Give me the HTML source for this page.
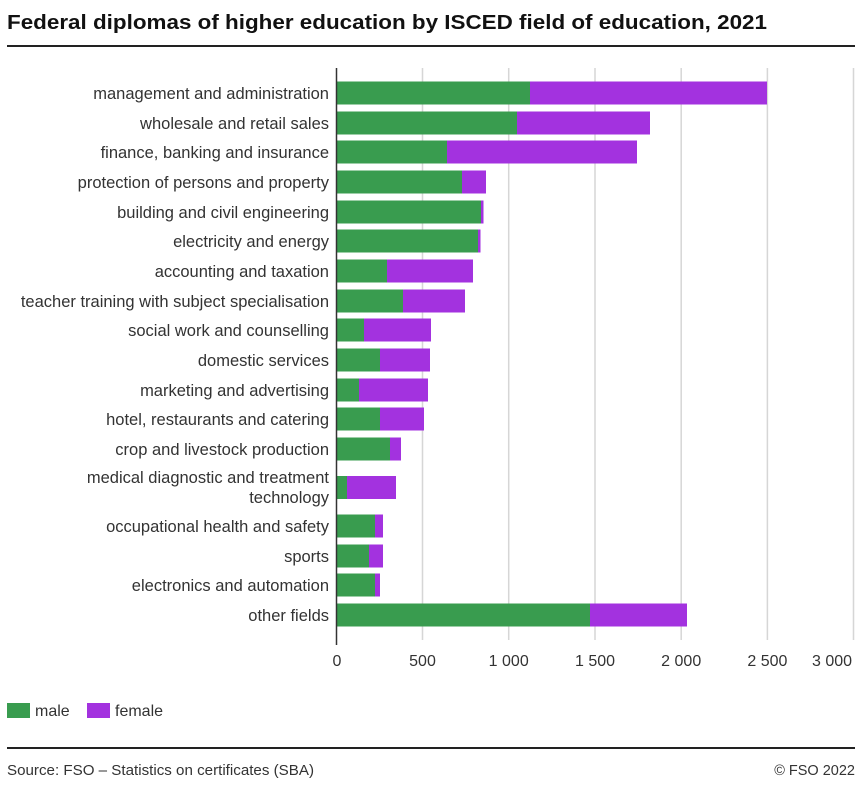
<!DOCTYPE html>
<html><head><style>
body{margin:0;background:#fff;}
svg{display:block;font-family:"Liberation Sans",sans-serif;}
</style></head><body>
<svg width="862" height="786" xmlns="http://www.w3.org/2000/svg">
<text x="7" y="29" font-size="20.5" font-weight="bold" fill="#111" textLength="760" lengthAdjust="spacingAndGlyphs">Federal diplomas of higher education by ISCED field of education, 2021</text>
<rect x="7" y="45" width="848" height="2" fill="#222"/>
<g stroke="#d6d6d6" stroke-width="1.5">
<line x1="422.5" y1="68" x2="422.5" y2="640"/>
<line x1="508.7" y1="68" x2="508.7" y2="640"/>
<line x1="595" y1="68" x2="595" y2="640"/>
<line x1="681.2" y1="68" x2="681.2" y2="640"/>
<line x1="767.4" y1="68" x2="767.4" y2="640"/>
<line x1="853.5" y1="68" x2="853.5" y2="640"/>
</g>
<g id="bars">
<rect x="337" y="81.5" width="193" height="23" fill="#399c4f"/><rect x="530" y="81.5" width="237" height="23" fill="#a332df"/>
<rect x="337" y="111.5" width="180" height="23" fill="#399c4f"/><rect x="517" y="111.5" width="133" height="23" fill="#a332df"/>
<rect x="337" y="140.5" width="110" height="23" fill="#399c4f"/><rect x="447" y="140.5" width="190" height="23" fill="#a332df"/>
<rect x="337" y="170.5" width="125" height="23" fill="#399c4f"/><rect x="462" y="170.5" width="24" height="23" fill="#a332df"/>
<rect x="337" y="200.5" width="144" height="23" fill="#399c4f"/><rect x="481" y="200.5" width="2.5" height="23" fill="#a332df"/>
<rect x="337" y="229.5" width="141" height="23" fill="#399c4f"/><rect x="478" y="229.5" width="2.5" height="23" fill="#a332df"/>
<rect x="337" y="259.5" width="50" height="23" fill="#399c4f"/><rect x="387" y="259.5" width="86" height="23" fill="#a332df"/>
<rect x="337" y="289.5" width="66" height="23" fill="#399c4f"/><rect x="403" y="289.5" width="62" height="23" fill="#a332df"/>
<rect x="337" y="318.5" width="27" height="23" fill="#399c4f"/><rect x="364" y="318.5" width="67" height="23" fill="#a332df"/>
<rect x="337" y="348.5" width="43" height="23" fill="#399c4f"/><rect x="380" y="348.5" width="50" height="23" fill="#a332df"/>
<rect x="337" y="378.5" width="22" height="23" fill="#399c4f"/><rect x="359" y="378.5" width="69" height="23" fill="#a332df"/>
<rect x="337" y="407.5" width="43" height="23" fill="#399c4f"/><rect x="380" y="407.5" width="44" height="23" fill="#a332df"/>
<rect x="337" y="437.5" width="53" height="23" fill="#399c4f"/><rect x="390" y="437.5" width="11" height="23" fill="#a332df"/>
<rect x="337" y="476" width="10" height="23" fill="#399c4f"/><rect x="347" y="476" width="49" height="23" fill="#a332df"/>
<rect x="337" y="514.5" width="38" height="23" fill="#399c4f"/><rect x="375" y="514.5" width="8" height="23" fill="#a332df"/>
<rect x="337" y="544.5" width="32" height="23" fill="#399c4f"/><rect x="369" y="544.5" width="14" height="23" fill="#a332df"/>
<rect x="337" y="573.5" width="38" height="23" fill="#399c4f"/><rect x="375" y="573.5" width="5" height="23" fill="#a332df"/>
<rect x="337" y="603.5" width="253" height="23" fill="#399c4f"/><rect x="590" y="603.5" width="97" height="23" fill="#a332df"/>
</g>
<line x1="336.5" y1="68" x2="336.5" y2="645" stroke="#333" stroke-width="1.5"/>
<g font-size="16.5" fill="#333" text-anchor="end">
<text x="329" y="99">management and administration</text>
<text x="329" y="129">wholesale and retail sales</text>
<text x="329" y="158">finance, banking and insurance</text>
<text x="329" y="188">protection of persons and property</text>
<text x="329" y="218">building and civil engineering</text>
<text x="329" y="247">electricity and energy</text>
<text x="329" y="277">accounting and taxation</text>
<text x="329" y="307">teacher training with subject specialisation</text>
<text x="329" y="336">social work and counselling</text>
<text x="329" y="366">domestic services</text>
<text x="329" y="396">marketing and advertising</text>
<text x="329" y="425">hotel, restaurants and catering</text>
<text x="329" y="455">crop and livestock production</text>
<text x="329" y="483">medical diagnostic and treatment</text>
<text x="329" y="503">technology</text>
<text x="329" y="532">occupational health and safety</text>
<text x="329" y="562">sports</text>
<text x="329" y="591">electronics and automation</text>
<text x="329" y="621">other fields</text>
</g>
<g font-size="16" fill="#333" text-anchor="middle">
<text x="337" y="666">0</text>
<text x="422.5" y="666">500</text>
<text x="508.7" y="666">1 000</text>
<text x="595" y="666">1 500</text>
<text x="681.2" y="666">2 000</text>
<text x="767.4" y="666">2 500</text>
<text x="832" y="666">3 000</text>
</g>
<rect x="7" y="703" width="23" height="15" fill="#399c4f"/>
<text x="35" y="716" font-size="16" fill="#333">male</text>
<rect x="87" y="703" width="23" height="15" fill="#a332df"/>
<text x="115" y="716" font-size="16" fill="#333">female</text>
<rect x="7" y="747" width="848" height="2" fill="#222"/>
<text x="7" y="775" font-size="14.5" fill="#333" textLength="307" lengthAdjust="spacingAndGlyphs">Source: FSO – Statistics on certificates (SBA)</text>
<text x="855" y="775" font-size="14.5" fill="#333" text-anchor="end">© FSO 2022</text>
</svg>
</body></html>
